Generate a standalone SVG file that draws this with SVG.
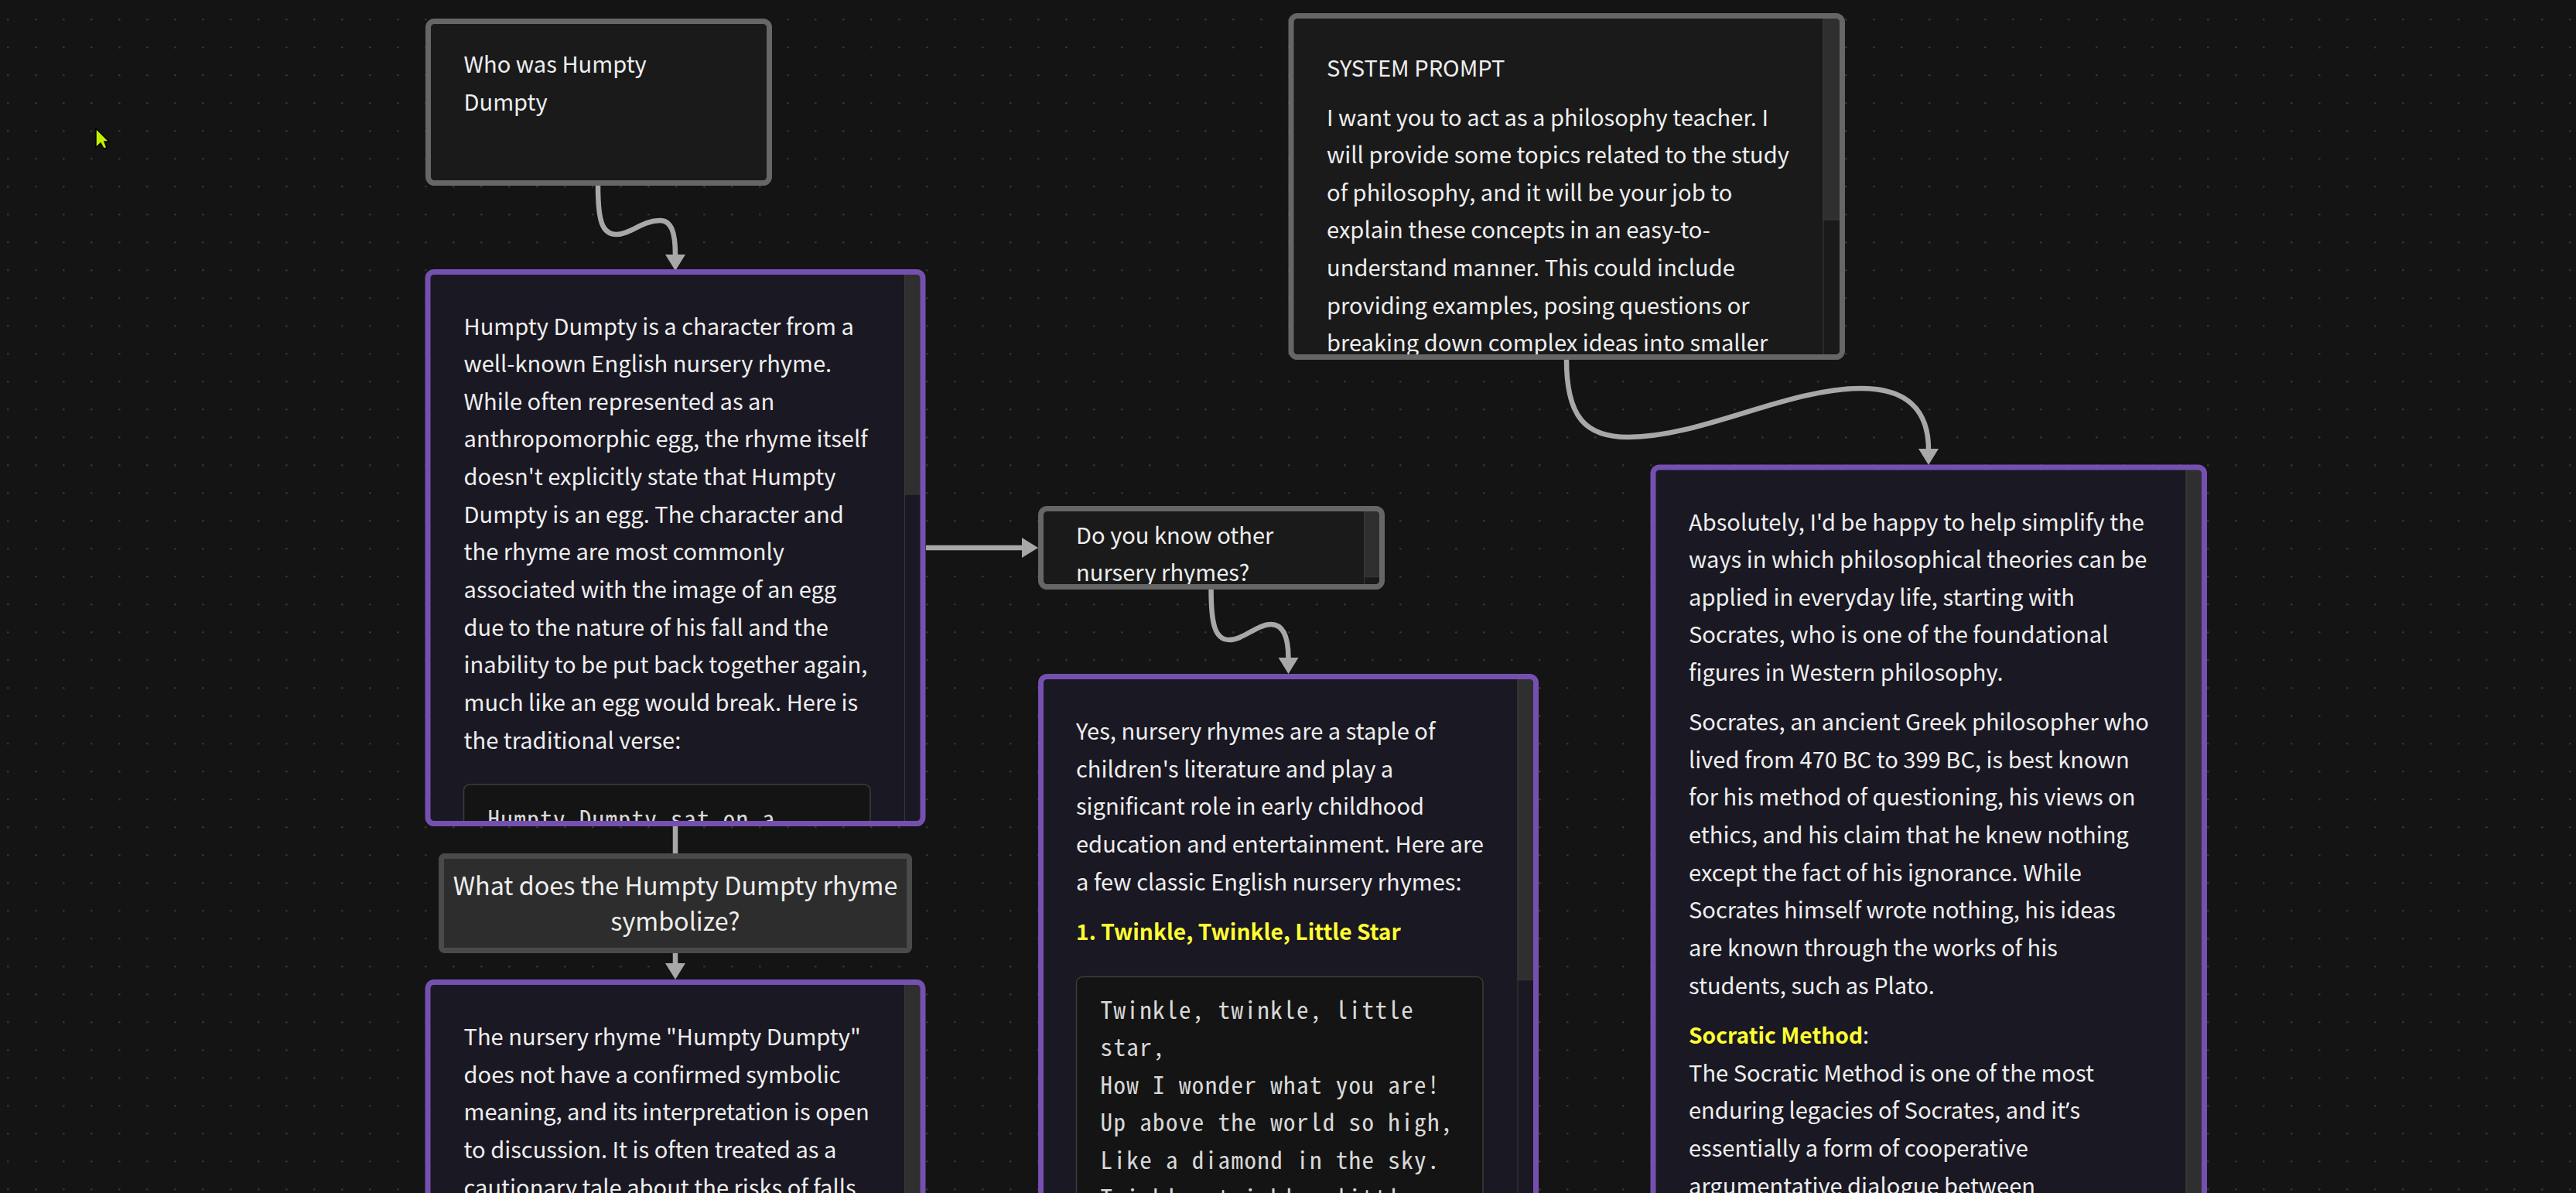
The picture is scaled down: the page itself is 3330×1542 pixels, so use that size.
<svg xmlns="http://www.w3.org/2000/svg" width="3330" height="1542" viewBox="0 0 3330 1542">
<style>
.bg{fill:#141414}
.user{fill:#1a1a1a}
.ai{fill:#1a1822}
.ubd{fill:none;stroke:#666;stroke-width:7}
.abd{fill:none;stroke:#7650b0;stroke-width:7}
.t{font-family:"Noto Sans CJK SC","Noto Sans",sans-serif;font-size:29.1px;fill:#eeeeee}
.q{font-family:"Noto Sans CJK SC","Noto Sans",sans-serif;font-size:32.3px;fill:#eeeeee;text-anchor:middle}
.y{font-weight:700;fill:#ffff33;font-size:28.2px}
.m{font-family:"Noto Sans Mono CJK SC","DejaVu Sans Mono",monospace;font-size:31px;letter-spacing:1.4px;fill:#d8d8d8}
.track{fill:none;stroke:#383838;stroke-width:1}
.thumb{fill:#2f2f2f;stroke:#3a3a3a;stroke-width:1}
.code{fill:#141414;stroke:#3c3c3c;stroke-width:1.5}
.edge{fill:none;stroke:#a8a8a8;stroke-width:6.5}
</style>
<defs>
<pattern id="dots" width="36" height="36" patternUnits="userSpaceOnUse" x="0" y="0"><circle cx="10.300" cy="25.300" r="1.300" fill="#363636"/></pattern>
<marker id="arrow" markerUnits="userSpaceOnUse" markerWidth="22" markerHeight="26" viewBox="0 0 22 26" refX="1" refY="13" orient="auto"><path d="M0 0L21 13L0 26Z" fill="#a8a8a8"/></marker>
<clipPath id="c1"><rect x="557" y="31" width="434" height="202" rx="5"/></clipPath>
<clipPath id="c2"><rect x="557" y="355" width="633" height="706" rx="5"/></clipPath>
<clipPath id="c4"><rect x="557" y="1273" width="633" height="400" rx="5"/></clipPath>
<clipPath id="c5"><rect x="1349" y="661" width="434" height="94" rx="5"/></clipPath>
<clipPath id="c6"><rect x="1349" y="878" width="633" height="800" rx="5"/></clipPath>
<clipPath id="c7"><rect x="1672.500" y="24" width="705.500" height="434" rx="5"/></clipPath>
<clipPath id="c8"><rect x="2140.500" y="607" width="705.500" height="1100" rx="5"/></clipPath>
</defs>
<rect class="bg" width="3330" height="1542"/>
<rect fill="url(#dots)" width="3330" height="1542"/>
<polygon points="124,166 124,191 130,185 134,192 138,191 135,183 141,183" fill="#c2f000" stroke="#000" stroke-width="1.5"/>
<g id="connectors">
<path class="edge" marker-end="url(#arrow)" d="M773 240C773 285 778 303 797 303C815 303 830 285 853 285C868 285 873 300 873 330"/>
<path class="edge" marker-end="url(#arrow)" d="M1197 708H1322"/>
<path class="edge" marker-end="url(#arrow)" d="M1565.600 762C1565.600 805 1570 827 1589 827C1607 827 1625 807 1643 807C1660 807 1665.500 825 1665.500 851"/>
<path class="edge" marker-end="url(#arrow)" d="M2025 465C2025 540 2050 565 2105 565C2200 565 2310 502 2406 502C2465 502 2493 530 2493 581"/>
<path class="edge" d="M873 1068V1103"/>
<path class="edge" marker-end="url(#arrow)" d="M873 1232V1246"/>
</g>
<g id="node-who">
<rect class="user" x="553.500" y="27.500" width="441" height="209" rx="8"/>
<g clip-path="url(#c1)">
<text class="t" x="599.500" y="94">Who was Humpty</text>
<text class="t" x="599.500" y="142.650">Dumpty</text>
</g>
<rect class="ubd" x="553.500" y="27.500" width="441" height="209" rx="8"/>
</g>
<g id="node-humpty">
<rect class="ai" x="553" y="351.500" width="640" height="713" rx="8"/>
<g clip-path="url(#c2)">
<line class="track" x1="1169.500" y1="355" x2="1169.500" y2="1061"/>
<rect class="thumb" x="1169.500" y="350" width="26" height="289"/>
<text class="t" x="599.500" y="432.500">Humpty Dumpty is a character from a</text>
<text class="t" x="599.500" y="481.150">well-known English nursery rhyme.</text>
<text class="t" x="599.500" y="529.800">While often represented as an</text>
<text class="t" x="599.500" y="578.450">anthropomorphic egg, the rhyme itself</text>
<text class="t" x="599.500" y="627.100">doesn't explicitly state that Humpty</text>
<text class="t" x="599.500" y="675.750">Dumpty is an egg. The character and</text>
<text class="t" x="599.500" y="724.400">the rhyme are most commonly</text>
<text class="t" x="599.500" y="773.050">associated with the image of an egg</text>
<text class="t" x="599.500" y="821.700">due to the nature of his fall and the</text>
<text class="t" x="599.500" y="870.350">inability to be put back together again,</text>
<text class="t" x="599.500" y="919">much like an egg would break. Here is</text>
<text class="t" x="599.500" y="967.650">the traditional verse:</text>
<rect class="code" x="599.500" y="1014" width="525.500" height="100" rx="8"/>
<text class="m" x="630.500" y="1070">Humpty Dumpty sat on a</text>
</g>
<rect class="abd" x="553" y="351.500" width="640" height="713" rx="8"/>
</g>
<g id="node-symbolize">
<rect x="570.500" y="1106.500" width="605" height="122" rx="4" fill="#2d2d2d" stroke="#4a4a4a" stroke-width="7"/>
<text class="q" x="873" y="1156.500">What does the Humpty Dumpty rhyme</text>
<text class="q" x="873" y="1203">symbolize?</text>
</g>
<g id="node-symbolic">
<rect class="ai" x="553" y="1269.500" width="640" height="400" rx="8"/>
<g clip-path="url(#c4)">
<line class="track" x1="1169.500" y1="1273" x2="1169.500" y2="1600"/>
<rect class="thumb" x="1169.500" y="1268" width="26" height="400"/>
<text class="t" x="599.500" y="1351">The nursery rhyme "Humpty Dumpty"</text>
<text class="t" x="599.500" y="1399.650">does not have a confirmed symbolic</text>
<text class="t" x="599.500" y="1448.300">meaning, and its interpretation is open</text>
<text class="t" x="599.500" y="1496.950">to discussion. It is often treated as a</text>
<text class="t" x="599.500" y="1545.600">cautionary tale about the risks of falls</text>
</g>
<rect class="abd" x="553" y="1269.500" width="640" height="400" rx="8"/>
</g>
<g id="node-other">
<rect class="user" x="1345.500" y="657.500" width="441" height="101" rx="8"/>
<g clip-path="url(#c5)">
<line class="track" x1="1763.500" y1="661" x2="1763.500" y2="755"/>
<rect class="thumb" x="1763.500" y="650" width="26" height="95.700"/>
<text class="t" x="1391" y="702.500">Do you know other</text>
<text class="t" x="1391" y="751.150">nursery rhymes?</text>
</g>
<rect class="ubd" x="1345.500" y="657.500" width="441" height="101" rx="8"/>
</g>
<g id="node-rhymes">
<rect class="ai" x="1345.500" y="874.500" width="640" height="800" rx="8"/>
<g clip-path="url(#c6)">
<line class="track" x1="1962" y1="878" x2="1962" y2="1600"/>
<rect class="thumb" x="1962" y="870" width="26" height="396.700"/>
<text class="t" x="1391" y="956">Yes, nursery rhymes are a staple of</text>
<text class="t" x="1391" y="1004.650">children's literature and play a</text>
<text class="t" x="1391" y="1053.300">significant role in early childhood</text>
<text class="t" x="1391" y="1101.950">education and entertainment. Here are</text>
<text class="t" x="1391" y="1150.600">a few classic English nursery rhymes:</text>
<text class="t y" x="1391" y="1215">1. Twinkle, Twinkle, Little Star</text>
<rect class="code" x="1391.500" y="1262.500" width="525.500" height="400" rx="8"/>
<text class="m" x="1422.500" y="1316.500">Twinkle, twinkle, little</text>
<text class="m" x="1422.500" y="1365.100">star,</text>
<text class="m" x="1422.500" y="1413.700">How I wonder what you are!</text>
<text class="m" x="1422.500" y="1462.300">Up above the world so high,</text>
<text class="m" x="1422.500" y="1510.900">Like a diamond in the sky.</text>
<text class="m" x="1422.500" y="1559.500">Twinkle, twinkle, little</text>
</g>
<rect class="abd" x="1345.500" y="874.500" width="640" height="800" rx="8"/>
</g>
<g id="node-system">
<rect class="user" x="1669" y="20.500" width="712.500" height="441" rx="8"/>
<g clip-path="url(#c7)">
<line class="track" x1="2357" y1="24" x2="2357" y2="458"/>
<rect class="thumb" x="2357" y="15" width="26" height="269"/>
<text class="t" x="1715" y="98.500">SYSTEM PROMPT</text>
<text class="t" x="1715" y="162.500">I want you to act as a philosophy teacher. I</text>
<text class="t" x="1715" y="211.150">will provide some topics related to the study</text>
<text class="t" x="1715" y="259.800">of philosophy, and it will be your job to</text>
<text class="t" x="1715" y="308.450">explain these concepts in an easy-to-</text>
<text class="t" x="1715" y="357.100">understand manner. This could include</text>
<text class="t" x="1715" y="405.750">providing examples, posing questions or</text>
<text class="t" x="1715" y="454.400">breaking down complex ideas into smaller</text>
</g>
<rect class="ubd" x="1669" y="20.500" width="712.500" height="441" rx="8"/>
</g>
<g id="node-socrates">
<rect class="ai" x="2137" y="604" width="712.500" height="1100" rx="8"/>
<g clip-path="url(#c8)">
<line class="track" x1="2826" y1="607" x2="2826" y2="1600"/>
<rect class="thumb" x="2826" y="600" width="26" height="1100"/>
<text class="t" x="2183" y="685.500">Absolutely, I'd be happy to help simplify the</text>
<text class="t" x="2183" y="734.150">ways in which philosophical theories can be</text>
<text class="t" x="2183" y="782.800">applied in everyday life, starting with</text>
<text class="t" x="2183" y="831.450">Socrates, who is one of the foundational</text>
<text class="t" x="2183" y="880.100">figures in Western philosophy.</text>
<text class="t" x="2183" y="944">Socrates, an ancient Greek philosopher who</text>
<text class="t" x="2183" y="992.650">lived from 470 BC to 399 BC, is best known</text>
<text class="t" x="2183" y="1041.300">for his method of questioning, his views on</text>
<text class="t" x="2183" y="1089.950">ethics, and his claim that he knew nothing</text>
<text class="t" x="2183" y="1138.600">except the fact of his ignorance. While</text>
<text class="t" x="2183" y="1187.250">Socrates himself wrote nothing, his ideas</text>
<text class="t" x="2183" y="1235.900">are known through the works of his</text>
<text class="t" x="2183" y="1284.550">students, such as Plato.</text>
<text class="t" x="2183" y="1349"><tspan class="y">Socratic Method</tspan>:</text>
<text class="t" x="2183" y="1397.650">The Socratic Method is one of the most</text>
<text class="t" x="2183" y="1446.300">enduring legacies of Socrates, and it<tspan font-family="Noto Sans">’</tspan>s</text>
<text class="t" x="2183" y="1494.950">essentially a form of cooperative</text>
<text class="t" x="2183" y="1543.600">argumentative dialogue between</text>
</g>
<rect class="abd" x="2137" y="604" width="712.500" height="1100" rx="8"/>
</g>
</svg>
